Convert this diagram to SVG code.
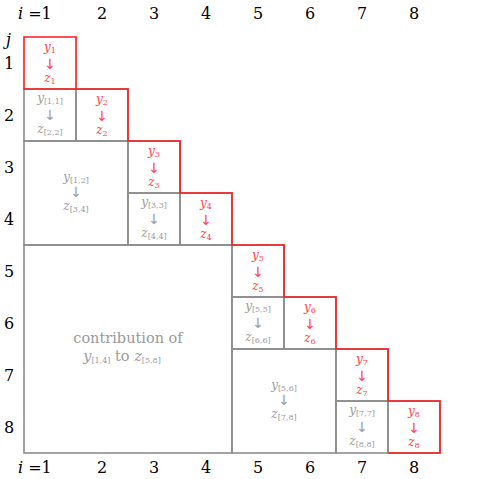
<svg xmlns="http://www.w3.org/2000/svg" width="498" height="479" viewBox="0 0 498 479">
<style>
.ax{font-family:"DejaVu Serif","Liberation Serif",serif;font-size:16px;fill:#000}
.it{font-style:italic}
.gbox{fill:none;stroke:#8c8c8c;stroke-width:1.6}
.red{fill:none;stroke:#ff1a1a;stroke-width:1.6}
.rt{font-family:"DejaVu Serif","Liberation Serif",serif;font-size:12px;fill:#ff4040;text-anchor:middle}
.gt{font-family:"DejaVu Serif","Liberation Serif",serif;font-size:12px;fill:#9a9a9a;text-anchor:middle}
.ar{font-family:"DejaVu Sans",sans-serif;font-size:14px}
.sub{font-size:8px;font-style:normal}
.big{font-size:14.5px}
</style>
<g id="axes">
<text class="ax" x="18" y="19"><tspan class="it">i</tspan> =1</text>
<text class="ax" x="102" y="19" text-anchor="middle">2</text>
<text class="ax" x="154" y="19" text-anchor="middle">3</text>
<text class="ax" x="206" y="19" text-anchor="middle">4</text>
<text class="ax" x="258" y="19" text-anchor="middle">5</text>
<text class="ax" x="310" y="19" text-anchor="middle">6</text>
<text class="ax" x="362" y="19" text-anchor="middle">7</text>
<text class="ax" x="414" y="19" text-anchor="middle">8</text>
<text class="ax" x="18" y="473"><tspan class="it">i</tspan> =1</text>
<text class="ax" x="102" y="473" text-anchor="middle">2</text>
<text class="ax" x="154" y="473" text-anchor="middle">3</text>
<text class="ax" x="206" y="473" text-anchor="middle">4</text>
<text class="ax" x="258" y="473" text-anchor="middle">5</text>
<text class="ax" x="310" y="473" text-anchor="middle">6</text>
<text class="ax" x="362" y="473" text-anchor="middle">7</text>
<text class="ax" x="414" y="473" text-anchor="middle">8</text>
<text class="ax it" x="6" y="45">j</text>
<text class="ax" x="9" y="69" text-anchor="middle">1</text>
<text class="ax" x="9" y="121" text-anchor="middle">2</text>
<text class="ax" x="9" y="173" text-anchor="middle">3</text>
<text class="ax" x="9" y="225" text-anchor="middle">4</text>
<text class="ax" x="9" y="277" text-anchor="middle">5</text>
<text class="ax" x="9" y="329" text-anchor="middle">6</text>
<text class="ax" x="9" y="381" text-anchor="middle">7</text>
<text class="ax" x="9" y="433" text-anchor="middle">8</text>
</g>
<g id="blocks">
<rect class="gbox" x="24" y="89" width="52" height="52"/>
<rect class="gbox" x="24" y="141" width="104" height="104"/>
<rect class="gbox" x="128" y="193" width="52" height="52"/>
<rect class="gbox" x="24" y="245" width="208" height="208"/>
<rect class="gbox" x="232" y="297" width="52" height="52"/>
<rect class="gbox" x="232" y="349" width="104" height="104"/>
<rect class="gbox" x="336" y="401" width="52" height="52"/>
<rect class="gbox" x="76" y="89" width="52" height="52"/>
<rect class="gbox" x="128" y="141" width="52" height="52"/>
<rect class="gbox" x="180" y="193" width="52" height="52"/>
<rect class="gbox" x="232" y="245" width="52" height="52"/>
<rect class="gbox" x="284" y="297" width="52" height="52"/>
<rect class="gbox" x="336" y="349" width="52" height="52"/>
<rect class="gbox" x="388" y="401" width="52" height="52"/>
</g>
<g id="diagonal-outline">
<path class="red" d="M76,89 H24 V37 H76 V89 H128 V141 H180 V193 H232 V245 H284 V297 H336 V349 H388 V401 H440 V453 H388"/>
</g>
<g id="d1" class="rt"><text x="50" y="51"><tspan class="it">y</tspan><tspan class="sub" dy="2">1</tspan></text><text class="ar" x="50" y="69">↓</text><text x="50" y="82"><tspan class="it">z</tspan><tspan class="sub" dy="2">1</tspan></text></g>
<g id="d2" class="rt"><text x="102" y="103"><tspan class="it">y</tspan><tspan class="sub" dy="2">2</tspan></text><text class="ar" x="102" y="121">↓</text><text x="102" y="134"><tspan class="it">z</tspan><tspan class="sub" dy="2">2</tspan></text></g>
<g id="d3" class="rt"><text x="154" y="155"><tspan class="it">y</tspan><tspan class="sub" dy="2">3</tspan></text><text class="ar" x="154" y="173">↓</text><text x="154" y="186"><tspan class="it">z</tspan><tspan class="sub" dy="2">3</tspan></text></g>
<g id="d4" class="rt"><text x="206" y="207"><tspan class="it">y</tspan><tspan class="sub" dy="2">4</tspan></text><text class="ar" x="206" y="225">↓</text><text x="206" y="238"><tspan class="it">z</tspan><tspan class="sub" dy="2">4</tspan></text></g>
<g id="d5" class="rt"><text x="258" y="259"><tspan class="it">y</tspan><tspan class="sub" dy="2">5</tspan></text><text class="ar" x="258" y="277">↓</text><text x="258" y="290"><tspan class="it">z</tspan><tspan class="sub" dy="2">5</tspan></text></g>
<g id="d6" class="rt"><text x="310" y="311"><tspan class="it">y</tspan><tspan class="sub" dy="2">6</tspan></text><text class="ar" x="310" y="329">↓</text><text x="310" y="342"><tspan class="it">z</tspan><tspan class="sub" dy="2">6</tspan></text></g>
<g id="d7" class="rt"><text x="362" y="363"><tspan class="it">y</tspan><tspan class="sub" dy="2">7</tspan></text><text class="ar" x="362" y="381">↓</text><text x="362" y="394"><tspan class="it">z</tspan><tspan class="sub" dy="2">7</tspan></text></g>
<g id="d8" class="rt"><text x="414" y="415"><tspan class="it">y</tspan><tspan class="sub" dy="2">8</tspan></text><text class="ar" x="414" y="433">↓</text><text x="414" y="446"><tspan class="it">z</tspan><tspan class="sub" dy="2">8</tspan></text></g>
<g id="b11" class="gt"><text x="50" y="102"><tspan class="it">y</tspan><tspan class="sub" dy="2">[1,1]</tspan></text><text class="ar" x="50" y="120">↓</text><text x="50" y="133"><tspan class="it">z</tspan><tspan class="sub" dy="2">[2,2]</tspan></text></g>
<g id="b12" class="gt"><text x="76" y="181"><tspan class="it">y</tspan><tspan class="sub" dy="2">[1,2]</tspan></text><text class="ar" x="76" y="197">↓</text><text x="76" y="210"><tspan class="it">z</tspan><tspan class="sub" dy="2">[3,4]</tspan></text></g>
<g id="b33" class="gt"><text x="154" y="206"><tspan class="it">y</tspan><tspan class="sub" dy="2">[3,3]</tspan></text><text class="ar" x="154" y="224">↓</text><text x="154" y="237"><tspan class="it">z</tspan><tspan class="sub" dy="2">[4,4]</tspan></text></g>
<g id="b14" class="gt"><text class="big" x="128" y="343">contribution of</text><text class="big" x="122" y="361"><tspan class="it">y</tspan><tspan class="sub" dy="2">[1,4]</tspan><tspan dy="-2"> to </tspan><tspan class="it">z</tspan><tspan class="sub" dy="2">[5,8]</tspan></text></g>
<g id="b55" class="gt"><text x="258" y="310"><tspan class="it">y</tspan><tspan class="sub" dy="2">[5,5]</tspan></text><text class="ar" x="258" y="328">↓</text><text x="258" y="341"><tspan class="it">z</tspan><tspan class="sub" dy="2">[6,6]</tspan></text></g>
<g id="b56" class="gt"><text x="284" y="389"><tspan class="it">y</tspan><tspan class="sub" dy="2">[5,6]</tspan></text><text class="ar" x="284" y="405">↓</text><text x="284" y="418"><tspan class="it">z</tspan><tspan class="sub" dy="2">[7,8]</tspan></text></g>
<g id="b77" class="gt"><text x="362" y="414"><tspan class="it">y</tspan><tspan class="sub" dy="2">[7,7]</tspan></text><text class="ar" x="362" y="432">↓</text><text x="362" y="445"><tspan class="it">z</tspan><tspan class="sub" dy="2">[8,8]</tspan></text></g>
</svg>
